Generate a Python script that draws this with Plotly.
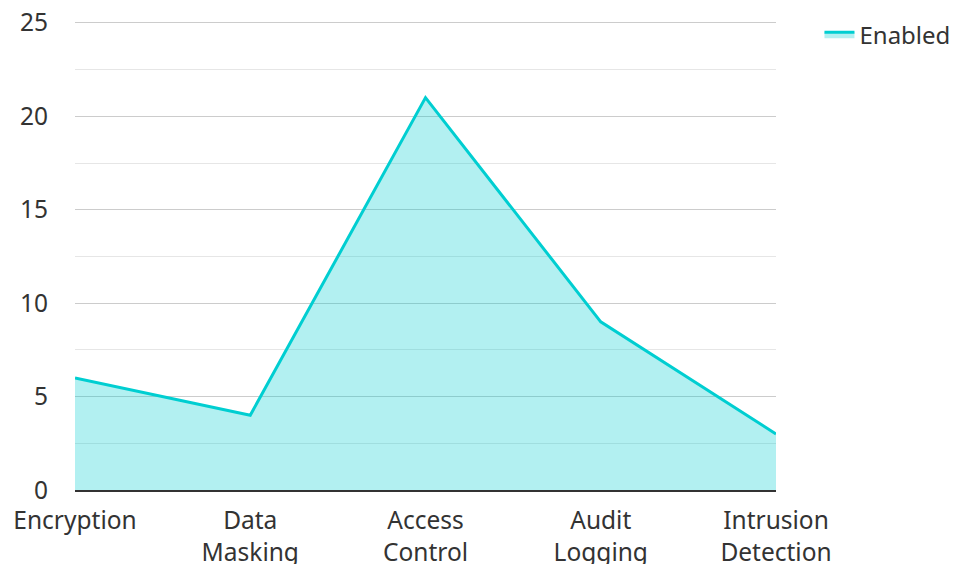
import plotly.graph_objects as go

categories = ["Encryption", "Data<br>Masking", "Access<br>Control", "Audit<br>Logging", "Intrusion<br>Detection"]
enabled = [6, 4, 21, 9, 3]
y_ticks = [0, 5, 10, 15, 20, 25]

fig = go.Figure()
fig.add_trace(go.Scatter(
    x=categories, y=enabled, name="Enabled", mode="lines",
    line=dict(color="#00CED1", width=3),
    fill="tozeroy", fillcolor="rgba(0,206,209,0.3)",
    showlegend=True,
))

fig.update_layout(
    width=949, height=556,
    margin=dict(l=67, r=181, t=13, b=74, autoexpand=False),
    paper_bgcolor="white", plot_bgcolor="white",
    font=dict(family="Noto Sans", size=24.5, color="#333333"),
    legend=dict(x=1.062, y=1.019, xanchor="left", yanchor="top",
                font=dict(size=24), bgcolor="rgba(0,0,0,0)", borderwidth=0),
    xaxis=dict(range=[0, 4], showgrid=False, showline=True, linecolor="#333333",
               linewidth=2, ticks="", zeroline=False, fixedrange=True,
               automargin=False, ticklabelstandoff=8),
    yaxis=dict(range=[0, 25.1], tickvals=y_ticks, showgrid=True, gridcolor="#cccccc",
               gridwidth=1, zeroline=False, showline=False, ticks="",
               ticklabelstandoff=26, automargin=False, ticklabeloverflow="allow",
               minor=dict(dtick=2.5, showgrid=True, gridcolor="#e6e6e6", gridwidth=1)),
)

fig.write_html("out.html")
